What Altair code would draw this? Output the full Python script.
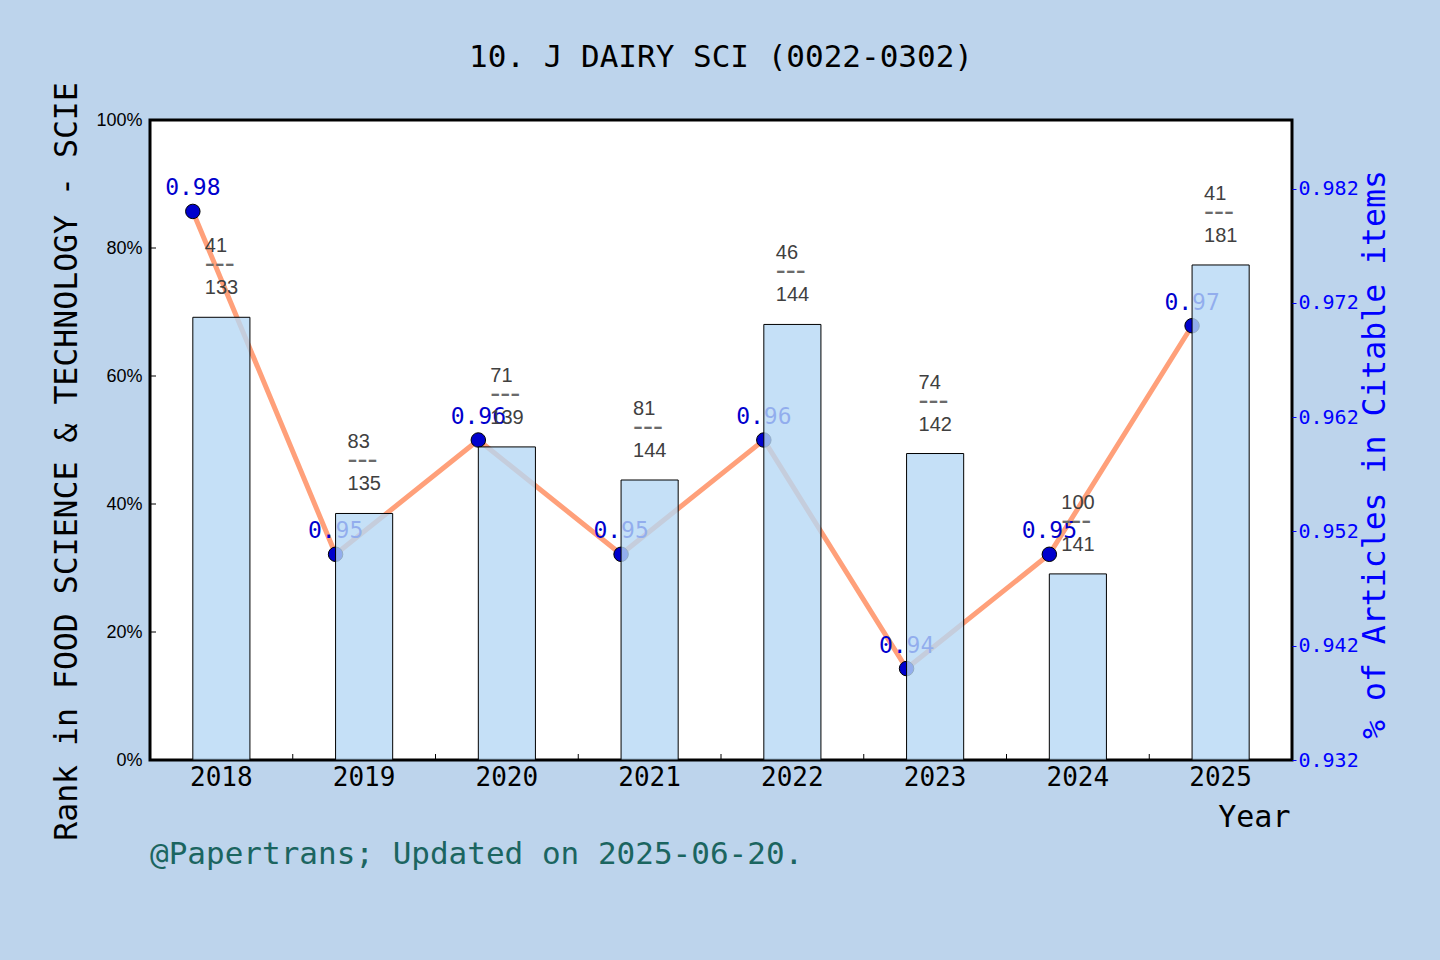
import altair as alt
import pandas as pd

# ---- data ----
years = ["2018", "2019", "2020", "2021", "2022", "2023", "2024", "2025"]
ranks = [41, 83, 71, 81, 46, 74, 100, 41]
totals = [133, 135, 139, 144, 144, 142, 141, 181]
citable = [0.98, 0.95, 0.96, 0.95, 0.96, 0.94, 0.95, 0.97]
left_ticks = [0.0, 0.2, 0.4, 0.6, 0.8, 1.0]
right_ticks = [0.932, 0.942, 0.952, 0.962, 0.972, 0.982]
title_text = "10. J DAIRY SCI (0022-0302)"
left_title = "Rank in FOOD SCIENCE & TECHNOLOGY - SCIE"
right_title = "% of Articles in Citable items"
x_title = "Year"
footer_text = "@Papertrans; Updated on 2025-06-20."
dash_text = "---"

df = pd.DataFrame({
    "year": years,
    "rank": ranks,
    "total": totals,
    "cit": citable,
})
df["pct"] = 1 - df["rank"] / df["total"]
df["num"] = df["rank"].astype(str)
df["den"] = df["total"].astype(str)
df["dash"] = dash_text
df["cit_label"] = df["cit"].map(lambda v: f"{v:.2f}")

footer_df = pd.DataFrame({"t": [footer_text]})
minor_df = pd.DataFrame({"year": years[1:]})
lt_df = pd.DataFrame({"v": left_ticks[1:-1]})

MONO = "DejaVu Sans Mono"
W, H = 1142, 640

xscale = alt.Scale(paddingInner=0, paddingOuter=0, domain=years)
xaxis = alt.Axis(
    title=x_title, labelAngle=0, labelFont=MONO, labelFontSize=26, labelColor="black",
    labelPadding=4, ticks=False, domain=False, grid=False,
    titleFont=MONO, titleFontSize=30, titleFontWeight="normal", titleColor="black",
    titleX=1140, titleY=57, titleAlign="right", titleBaseline="middle",
)

lscale = alt.Scale(domain=[0, 1], nice=False, zero=False)
rscale = alt.Scale(domain=[0.932, 0.988], nice=False, zero=False)

left_axis = alt.Axis(
    orient="left", values=left_ticks, format=".0%", labelFont="Liberation Sans",
    labelFontSize=18, labelColor="black", ticks=False, labelPadding=8,
    domain=False, grid=False, title=left_title, titleFont=MONO, titleFontSize=31.5,
    titleFontWeight="normal", titleColor="black", titleAngle=270,
    titleX=-83, titleY=341, titleAlign="center", titleBaseline="middle",
)
right_axis = alt.Axis(
    orient="right", values=right_ticks, format=".3f", labelFont=MONO,
    labelFontSize=20, labelColor="#0000FF", tickColor="#0000FF", tickSize=4,
    tickWidth=1, labelPadding=2, domain=False, grid=False, title=right_title,
    titleFont=MONO, titleFontSize=31.5, titleFontWeight="normal", titleColor="#0000FF",
    titleAngle=270, titleX=83, titleY=334, titleAlign="center", titleBaseline="middle",
)

base = alt.Chart(df)


def xenc(bp=None):
    if bp is None:
        return alt.X("year:N", scale=xscale, axis=xaxis)
    return alt.X("year:N", scale=xscale, axis=xaxis, bandPosition=bp)


line = base.mark_line(color="#FFA07A", strokeWidth=5).encode(
    x=xenc(0.3),
    y=alt.Y("cit:Q", scale=rscale, axis=right_axis),
)
points = base.mark_point(
    shape="circle", filled=True, size=210, fill="#0000CD", stroke="black",
    strokeWidth=1, opacity=1,
).encode(
    x=xenc(0.3),
    y=alt.Y("cit:Q", scale=rscale, axis=None),
)
cit_text = base.mark_text(
    font=MONO, fontSize=23, color="#0000CD", align="center",
    baseline="alphabetic", dy=-16,
).encode(
    x=xenc(0.3),
    y=alt.Y("cit:Q", scale=rscale, axis=None),
    text="cit_label:N",
)
bars = base.mark_bar(
    width=alt.RelativeBandSize(0.4), fill="#B7D8F5", fillOpacity=0.8,
    stroke="black", strokeWidth=1, strokeOpacity=1,
).encode(
    x=xenc(),
    y=alt.Y("pct:Q", scale=lscale, axis=left_axis),
)


def bar_label(field, size, color, dy):
    return base.mark_text(
        font="Liberation Sans", fontSize=size, color=color, align="left",
        baseline="alphabetic", dx=12, dy=dy,
    ).encode(
        x=xenc(0.3),
        y=alt.Y("pct:Q", scale=lscale, axis=None),
        text=f"{field}:N",
    )


num_text = bar_label("num", 20, "#404040", -65)
dash_t = bar_label("dash", 30, "#6a6a6a", -44)
den_text = bar_label("den", 20, "#404040", -23)

minor_ticks = alt.Chart(minor_df).mark_rule(color="black", strokeWidth=1).encode(
    x=xenc(0.0), y=alt.value(634), y2=alt.value(640),
)
left_inner_ticks = alt.Chart(lt_df).mark_rule(color="black", strokeWidth=1).encode(
    y=alt.Y("v:Q", scale=lscale, axis=None), x=alt.value(0), x2=alt.value(6),
)

footer = alt.Chart(footer_df).mark_text(
    font=MONO, fontSize=31, color="#1B6560", align="left", baseline="middle",
).encode(
    x=alt.value(0), y=alt.value(735), text="t:N",
)

chart = alt.layer(
    line, points, cit_text, bars, num_text, dash_t, den_text,
    minor_ticks, left_inner_ticks, footer,
).resolve_scale(
    y="independent"
).properties(
    width=W, height=H,
    title=alt.TitleParams(
        text=title_text, font=MONO, fontSize=31, fontWeight="normal",
        color="black", anchor="middle", offset=8,
    ),
    autosize=alt.AutoSizeParams(type="none"),
    padding={"left": 150, "top": 120, "right": 148, "bottom": 200},
    background="#BDD4EC",
).configure_view(
    fill="white", stroke="black", strokeWidth=3,
)

chart.save("out.html", embed_options={"renderer": "svg", "actions": False})
